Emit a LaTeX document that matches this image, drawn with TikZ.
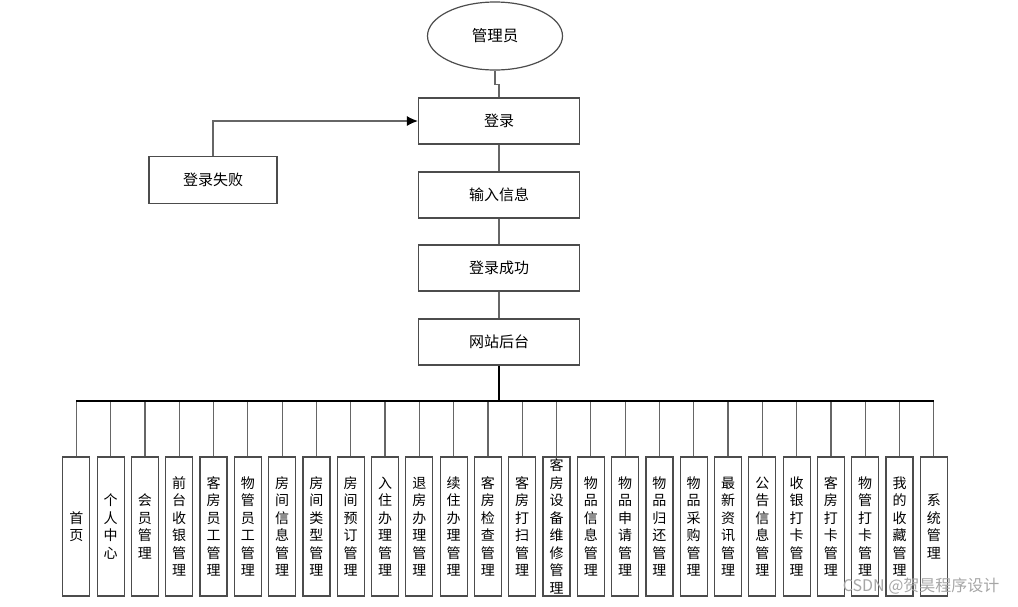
\documentclass[tikz,border=0pt]{standalone}
\usepackage{fontspec}
\setmainfont{Noto Sans CJK SC}
\usetikzlibrary{shapes.geometric,arrows.meta}

\tikzset{
  stepbox/.style={draw=boxgray, line width=1.2, fill=white, minimum width=161, minimum height=46, inner sep=0, font=\fontsize{15}{17}\selectfont},
  itembox/.style={draw=boxgray, line width=1.2, fill=white, minimum width=27, minimum height=139, inner sep=0, align=center, font=\fontsize{14}{17.5}\selectfont},
  link/.style={draw=linegray, line width=1.2}
}

\begin{document}
\begin{tikzpicture}[x=1pt,y=-1pt]

\definecolor{linegray}{rgb}{0.4,0.4,0.4}
\definecolor{boxgray}{rgb}{0.3,0.3,0.3}

\useasboundingbox (0,0) rectangle (1018,606);

% top chain
\node[ellipse, draw=boxgray, line width=1.2, minimum width=135, minimum height=68, font=\fontsize{15.5}{18}\selectfont] (admin) at (495,36) {管理员};
\node[stepbox] (login) at (499,121) {登录};
\node[stepbox] (input) at (499,195) {输入信息};
\node[stepbox] (success) at (499,268) {登录成功};
\node[stepbox] (backend) at (499,342) {网站后台};
\node[stepbox, minimum width=128, minimum height=47] (fail) at (213,180) {登录失败};

\draw[link] (admin.south) -- ++(0,14) -| (login.north);
\draw[link] (login) -- (input);
\draw[link] (input) -- (success);
\draw[link] (success) -- (backend);
\draw[link, -{Latex[length=11pt,width=10pt,black]}] (fail.north) |- (login.west);

% module row
\coordinate (bus) at (499,401);
\draw[line width=2] (backend.south) -- (bus);

\foreach \i/\txt in {0/{首\\页}, 1/{个\\人\\中\\心}, 2/{会\\员\\管\\理}, 3/{前\\台\\收\\银\\管\\理},
  4/{客\\房\\员\\工\\管\\理}, 5/{物\\管\\员\\工\\管\\理}, 6/{房\\间\\信\\息\\管\\理}, 7/{房\\间\\类\\型\\管\\理},
  8/{房\\间\\预\\订\\管\\理}, 9/{入\\住\\办\\理\\管\\理}, 10/{退\\房\\办\\理\\管\\理}, 11/{续\\住\\办\\理\\管\\理},
  12/{客\\房\\检\\查\\管\\理}, 13/{客\\房\\打\\扫\\管\\理}, 14/{客\\房\\设\\备\\维\\修\\管\\理}, 15/{物\\品\\信\\息\\管\\理},
  16/{物\\品\\申\\请\\管\\理}, 17/{物\\品\\归\\还\\管\\理}, 18/{物\\品\\采\\购\\管\\理}, 19/{最\\新\\资\\讯\\管\\理},
  20/{公\\告\\信\\息\\管\\理}, 21/{收\\银\\打\\卡\\管\\理}, 22/{客\\房\\打\\卡\\管\\理}, 23/{物\\管\\打\\卡\\管\\理},
  24/{我\\的\\收\\藏\\管\\理}, 25/{系\\统\\管\\理}}
{
  \node[itembox] (m\i) at (76.3+34.3*\i, 526.5) {\txt};
  \draw[link] (m\i.north) -- (m\i.north |- bus);
}

\draw[line width=1.6] (m0.north |- bus) -- (m25.north |- bus);

\node[text=gray!70, anchor=east, font=\fontsize{16}{18}\selectfont] (mark) at (1003,586) {CSDN\ @贺昊程序设计};

\end{tikzpicture}
\end{document}
